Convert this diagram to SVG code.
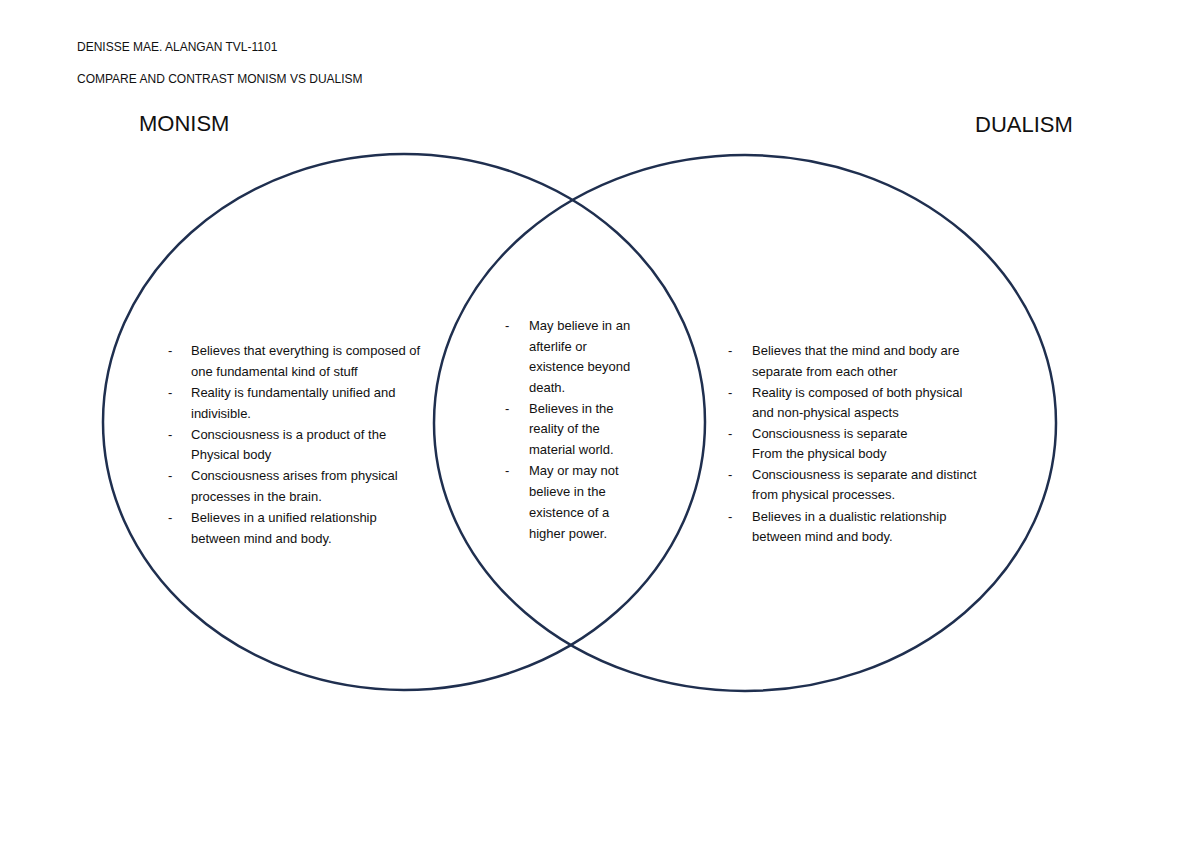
<svg xmlns="http://www.w3.org/2000/svg" width="1200" height="849" viewBox="0 0 1200 849">
<style>
text{font-family:"Liberation Sans",Arial,sans-serif;fill:#111;}
.h{font-size:12px}
.t{font-size:22px}
.b{font-size:13px}
.c{fill:none;stroke:#1f2f4f;stroke-width:2.5}
</style>
<rect width="1200" height="849" fill="#fff"/>
<text class="h" x="77" y="51">DENISSE MAE. ALANGAN TVL-1101</text>
<text class="h" x="77" y="83">COMPARE AND CONTRAST MONISM VS DUALISM</text>
<text class="t" x="139" y="131">MONISM</text>
<text class="t" x="975" y="132">DUALISM</text>
<g id="connectors"></g>
<g id="monism">
<ellipse class="c" cx="404" cy="422" rx="301" ry="268"/>
<g class="b">
<text class="b" x="168" y="355">-</text><text class="b" x="191" y="355">Believes that everything is composed of</text>
<text class="b" x="191" y="376">one fundamental kind of stuff</text>
<text class="b" x="168" y="397">-</text><text class="b" x="191" y="397">Reality is fundamentally unified and</text>
<text class="b" x="191" y="418">indivisible.</text>
<text class="b" x="168" y="439">-</text><text class="b" x="191" y="439">Consciousness is a product of the</text>
<text class="b" x="191" y="459">Physical body</text>
<text class="b" x="168" y="480">-</text><text class="b" x="191" y="480">Consciousness arises from physical</text>
<text class="b" x="191" y="501">processes in the brain.</text>
<text class="b" x="168" y="522">-</text><text class="b" x="191" y="522">Believes in a unified relationship</text>
<text class="b" x="191" y="543">between mind and body.</text>
</g>
</g>
<g id="dualism">
<ellipse class="c" cx="745" cy="423" rx="311" ry="268"/>
<text class="b" x="728" y="355">-</text><text class="b" x="752" y="355">Believes that the mind and body are</text>
<text class="b" x="752" y="376">separate from each other</text>
<text class="b" x="728" y="397">-</text><text class="b" x="752" y="397">Reality is composed of both physical</text>
<text class="b" x="752" y="417">and non-physical aspects</text>
<text class="b" x="728" y="438">-</text><text class="b" x="752" y="438">Consciousness is separate</text>
<text class="b" x="752" y="458">From the physical body</text>
<text class="b" x="728" y="479">-</text><text class="b" x="752" y="479">Consciousness is separate and distinct</text>
<text class="b" x="752" y="499">from physical processes.</text>
<text class="b" x="728" y="521">-</text><text class="b" x="752" y="521">Believes in a dualistic relationship</text>
<text class="b" x="752" y="541">between mind and body.</text>
</g>
<g id="both">
<text class="b" x="505" y="330">-</text><text class="b" x="529" y="330">May believe in an</text>
<text class="b" x="529" y="351">afterlife or</text>
<text class="b" x="529" y="371">existence beyond</text>
<text class="b" x="529" y="392">death.</text>
<text class="b" x="505" y="413">-</text><text class="b" x="529" y="413">Believes in the</text>
<text class="b" x="529" y="433">reality of the</text>
<text class="b" x="529" y="454">material world.</text>
<text class="b" x="505" y="475">-</text><text class="b" x="529" y="475">May or may not</text>
<text class="b" x="529" y="496">believe in the</text>
<text class="b" x="529" y="517">existence of a</text>
<text class="b" x="529" y="538">higher power.</text>
</g>
</svg>
